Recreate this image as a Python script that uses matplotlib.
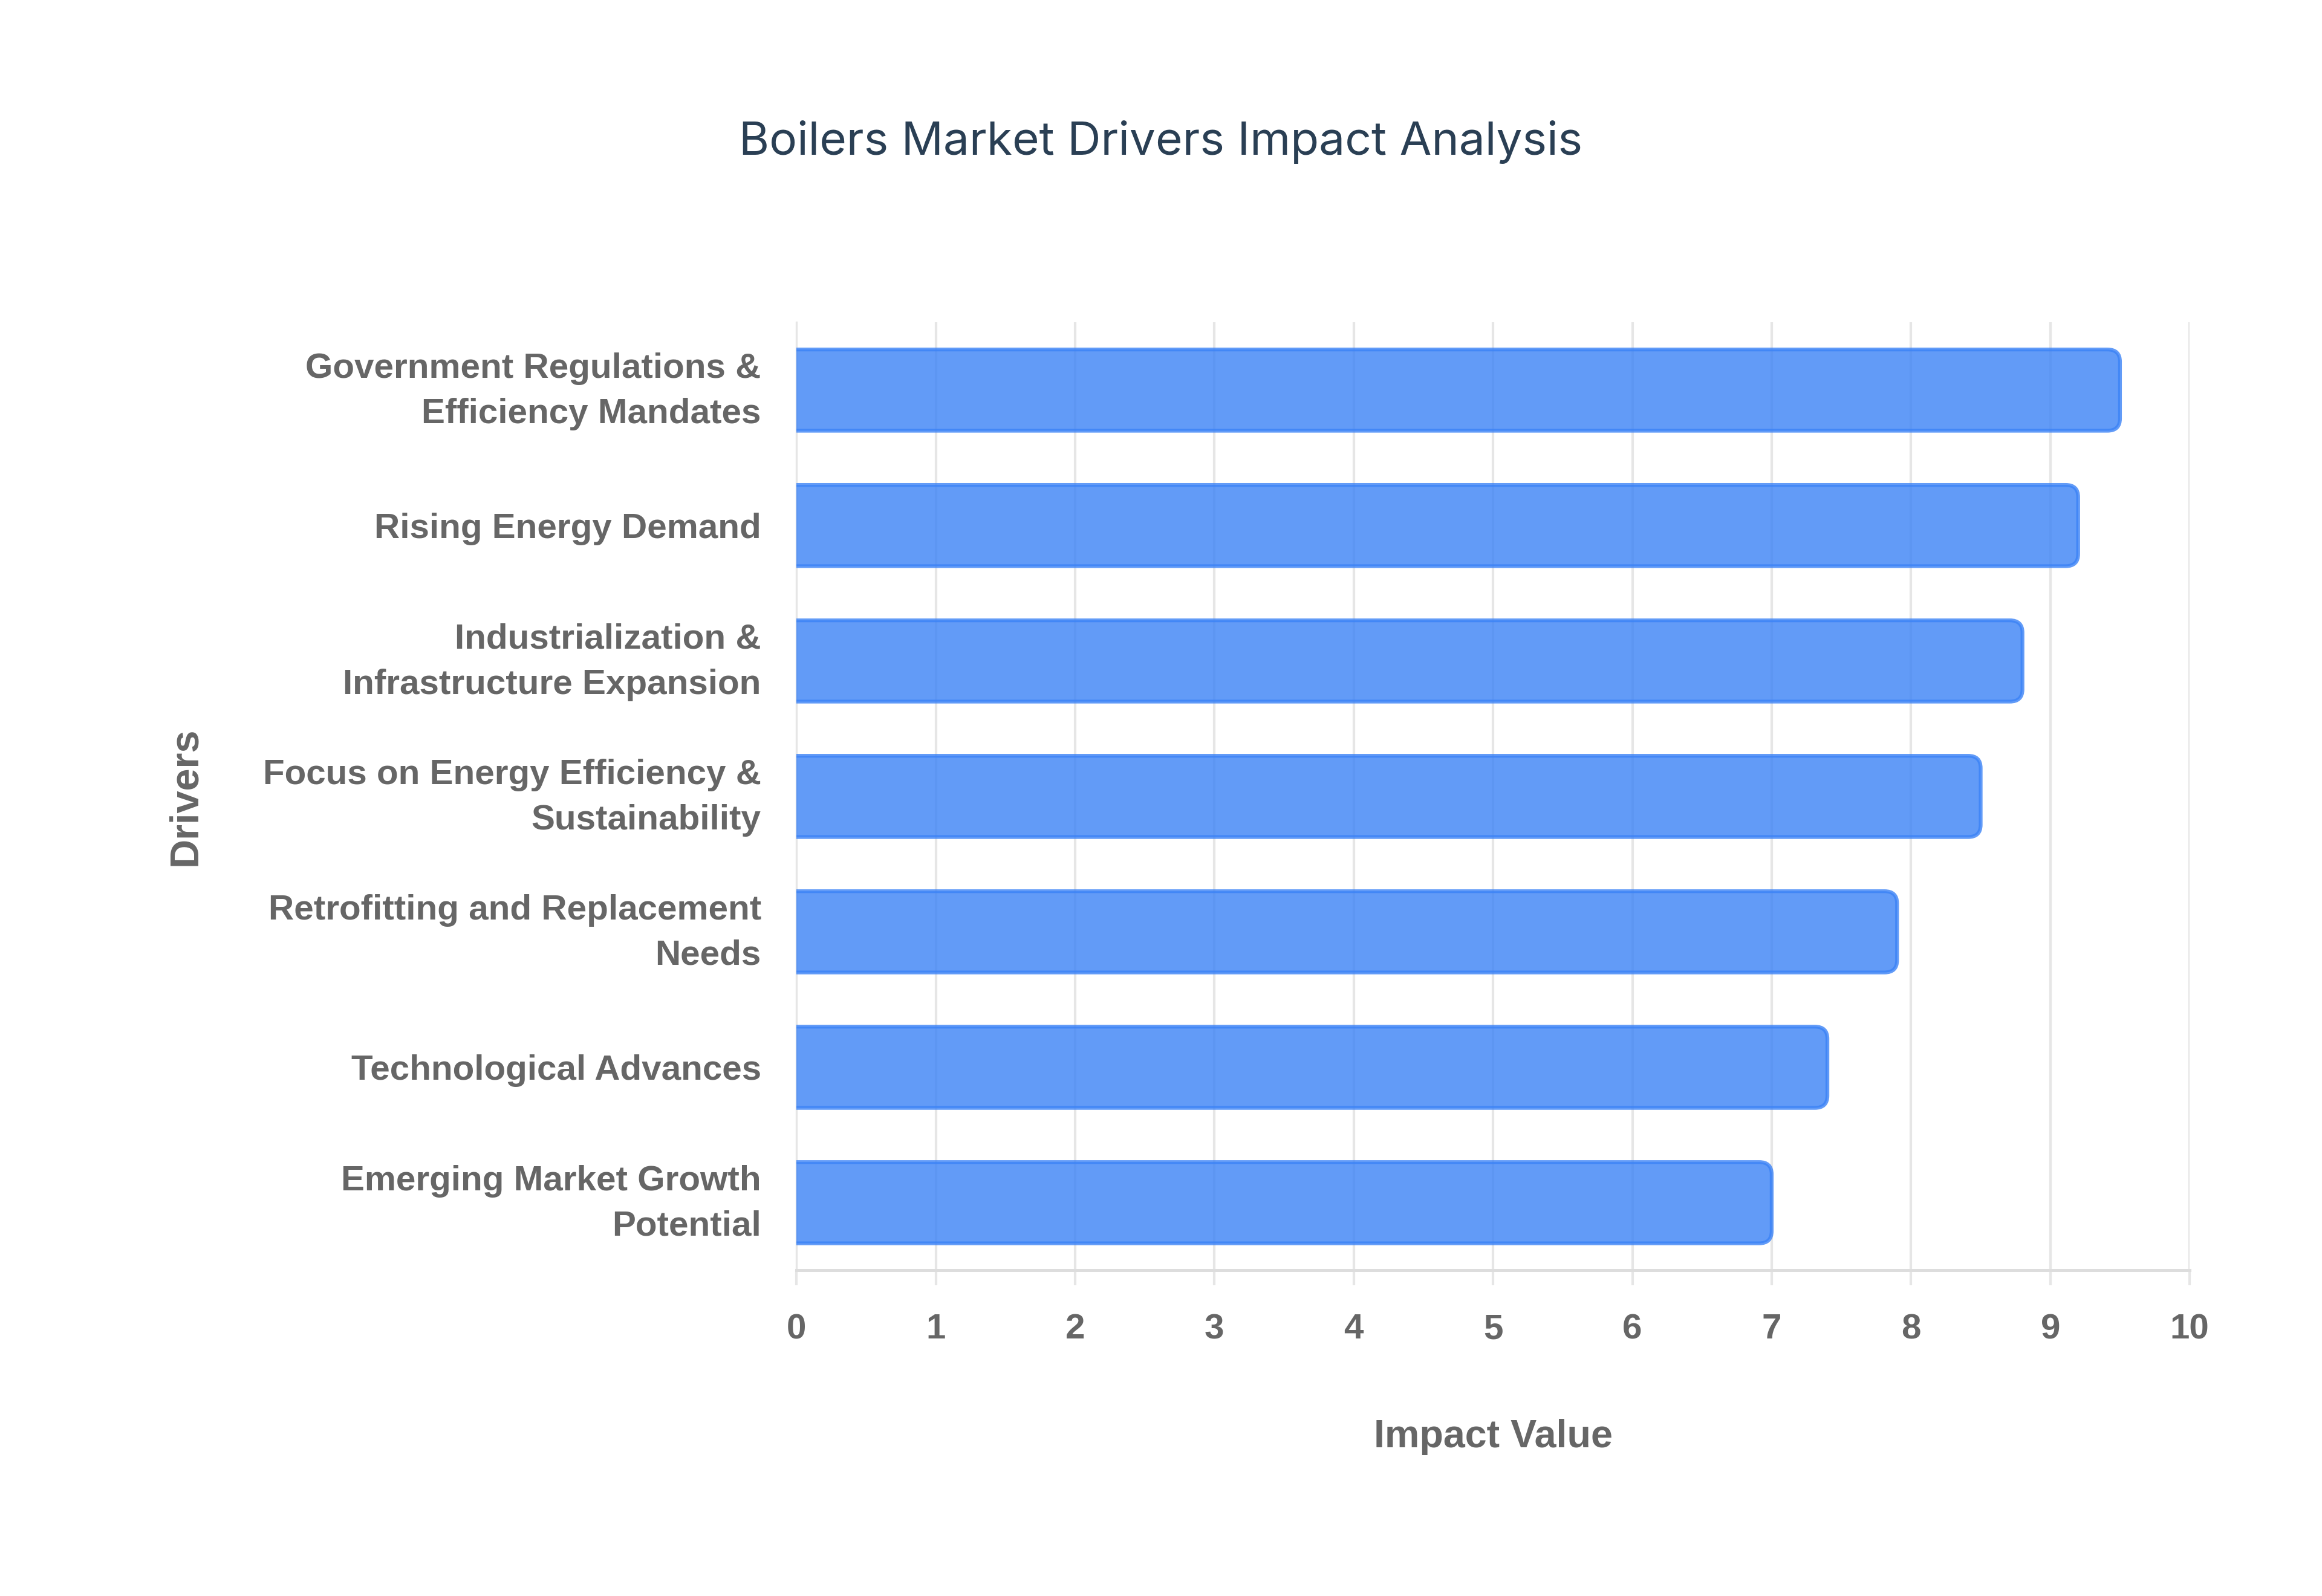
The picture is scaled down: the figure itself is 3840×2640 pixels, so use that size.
import matplotlib
matplotlib.use("Agg")
import matplotlib.pyplot as plt
import matplotlib.transforms as mtransforms
from matplotlib.patches import FancyBboxPatch

# Drivers (top to bottom) and their impact values
drivers = [
    "Government Regulations &\nEfficiency Mandates",
    "Rising Energy Demand",
    "Industrialization &\nInfrastructure Expansion",
    "Focus on Energy Efficiency &\nSustainability",
    "Retrofitting and Replacement\nNeeds",
    "Technological Advances",
    "Emerging Market Growth\nPotential",
]
impact = [9.5, 9.2, 8.8, 8.5, 7.9, 7.4, 7.0]
x_ticks = list(range(0, 11))

label_gray = "#666666"
grid_gray = "#e6e6e6"

fig = plt.figure(figsize=(12.8, 8.8), dpi=300)
ax = fig.add_axes([0.343, 0.204, 0.600, 0.594])

y_pos = list(range(len(drivers)))
bar_h = 0.6
for y, v in zip(y_pos, impact):
    # bar with rounded right end, left end hidden behind the axis
    patch = FancyBboxPatch((-0.3, y - bar_h / 2), v + 0.3, bar_h,
                           boxstyle="round,pad=0,rounding_size=0.09",
                           mutation_aspect=1.0,
                           facecolor="#3b82f6", alpha=0.8,
                           edgecolor="#3b82f6", linewidth=1.5, zorder=3,
                           clip_on=True)
    ax.add_patch(patch)

ax.set_xlim(0, 10)
ax.set_ylim(len(drivers) - 0.5, -0.5)
ax.set_xticks(x_ticks)
ax.set_yticks(y_pos)
ax.set_yticklabels(drivers, linespacing=1.5)

ax.grid(axis="x", color=grid_gray, linewidth=1.0, zorder=0)
ax.set_axisbelow(True)
for side in ["top", "right"]:
    ax.spines[side].set_visible(False)
ax.spines["left"].set_color(grid_gray)
ax.spines["bottom"].set_color("#dddddd")
ax.spines["bottom"].set_linewidth(1.2)

ax.tick_params(axis="x", colors=grid_gray, length=6, width=1.0, pad=11,
               labelcolor=label_gray, labelsize=14)
ax.tick_params(axis="y", length=0, pad=14, labelcolor=label_gray, labelsize=14)
for lbl in ax.get_xticklabels() + ax.get_yticklabels():
    lbl.set_fontfamily("Liberation Sans")
    lbl.set_fontweight("bold")

# two-line labels sit a little low, nudge them up
shift = mtransforms.ScaledTranslation(0, 3.5 / 72, fig.dpi_scale_trans)
for lbl in ax.get_yticklabels():
    if "\n" in lbl.get_text():
        lbl.set_transform(lbl.get_transform() + shift)

ax.set_xlabel("Impact Value", fontsize=15.5, fontweight="bold", color=label_gray,
              family="Liberation Sans", labelpad=29)
ax.set_ylabel("Drivers", fontsize=16, fontweight="bold", color=label_gray,
              family="Liberation Sans", labelpad=0)
ax.yaxis.set_label_coords(-0.425, 0.5)

fig.text(0.5, 0.911, "Boilers Market Drivers Impact Analysis", ha="center",
         va="center", fontsize=18.4, color="#2a3f54", family="Inter")

fig.savefig("out.png", dpi=300, facecolor="white")
